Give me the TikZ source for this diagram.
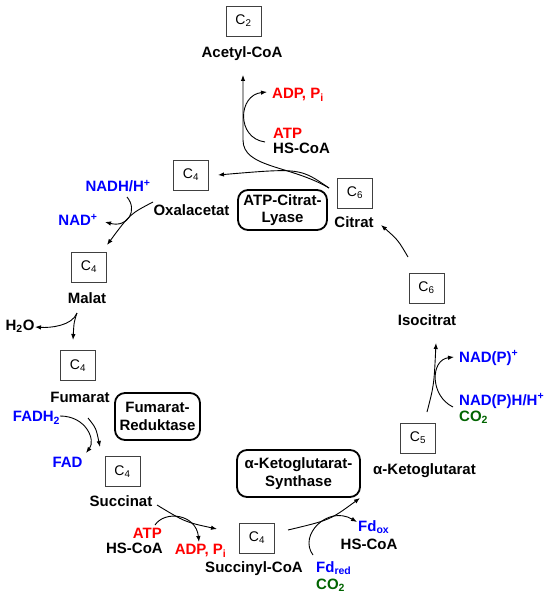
\documentclass[tikz,border=0pt]{standalone}
\usepackage{fontspec}
\setmainfont{Liberation Sans}
\usetikzlibrary{arrows.meta}
\definecolor{nblue}{RGB}{0,0,255}
\definecolor{nred}{RGB}{255,0,0}
\definecolor{ngreen}{RGB}{0,100,0}
\begin{document}
\begin{tikzpicture}[x=1pt,y=-1pt,
 cbox/.style={draw=black!75, line width=0.8pt, minimum width=35pt, minimum height=30pt, inner sep=0pt, font=\fontsize{14}{16}\selectfont},
 lbl/.style={font=\fontsize{15}{17}\selectfont\bfseries, inner sep=0pt},
 enz/.style={draw, line width=1.8pt, rounded corners=10pt, align=center, inner sep=0pt, font=\fontsize{15}{17.5}\selectfont\bfseries},
 arr/.style={-{Latex[length=6pt,width=4.5pt]}, line width=0.9pt}]
\fill[white] (0,0) rectangle (543,599);
\useasboundingbox (0,0) rectangle (543,599);

% carbon boxes
\node[cbox] (c2) at (243.5,21) {C\textsubscript{2}};
\node[cbox] (c4oxa) at (191,175) {C\textsubscript{4}};
\node[cbox] (c6cit) at (355,193) {C\textsubscript{6}};
\node[cbox] (c6iso) at (426.5,288) {C\textsubscript{6}};
\node[cbox] (c5) at (418,438) {C\textsubscript{5}};
\node[cbox] (c4sco) at (257,538) {C\textsubscript{4}};
\node[cbox] (c4suc) at (122.5,471.5) {C\textsubscript{4}};
\node[cbox] (c4fum) at (78,365.5) {C\textsubscript{4}};
\node[cbox] (c4mal) at (89,267) {C\textsubscript{4}};

% metabolite names
\node[lbl] (acetyl) at (242,54) {Acetyl-CoA};
\node[lbl] (oxa) at (191.5,210) {Oxalacetat};
\node[lbl] (citrat) at (354,222) {Citrat};
\node[lbl] (isocit) at (427,320) {Isocitrat};
\node[lbl] (aketo) at (424.5,471) {α-Ketoglutarat};
\node[lbl] (succoa) at (254,569) {Succinyl-CoA};
\node[lbl] (succ) at (121,501) {Succinat};
\node[lbl] (fum) at (80,397) {Fumarat};
\node[lbl] (mal) at (87,298) {Malat};

% enzymes
\node[enz, minimum width=89pt, minimum height=40pt] (lyase) at (282.5,210) {ATP-Citrat-\\Lyase};
\node[enz, minimum width=85pt, minimum height=47pt] (redukt) at (157.5,416.5) {Fumarat-\\Reduktase};
\node[enz, minimum width=123pt, minimum height=47pt] (synth) at (298.5,473.5) {α-Ketoglutarat-\\Synthase};

% cofactors
\node[lbl, text=nred, anchor=west] (adp1) at (272,95) {ADP, P\textsubscript{i}};
\node[lbl, text=nred, anchor=west] (atp1) at (273,133) {ATP};
\node[lbl, anchor=west] (hs1) at (273,148) {HS-CoA};
\node[lbl, text=nblue] (nadh) at (118,186) {NADH/H\textsuperscript{+}};
\node[lbl, text=nblue] (nad) at (78,220) {NAD\textsuperscript{+}};
\node[lbl] (h2o) at (20,326) {H\textsubscript{2}O};
\node[lbl, text=nblue] (fadh) at (36.5,418) {FADH\textsubscript{2}};
\node[lbl, text=nblue] (fad) at (67.5,462) {FAD};
\node[lbl, text=nred, anchor=east] (atp2) at (162,533) {ATP};
\node[lbl, anchor=east] (hs2) at (163,548) {HS-CoA};
\node[lbl, text=nred] (adp2) at (200.5,551) {ADP, P\textsubscript{i}};
\node[lbl, text=nblue, anchor=west] (fdox) at (358,527) {Fd\textsubscript{ox}};
\node[lbl] (hs3) at (369,544) {HS-CoA};
\node[lbl, text=nblue, anchor=west] (fdred) at (316,568) {Fd\textsubscript{red}};
\node[lbl, text=ngreen, anchor=west] (co2a) at (316,585) {CO\textsubscript{2}};
\node[lbl, text=nblue, anchor=west] (nadp) at (459,358) {NAD(P)\textsuperscript{+}};
\node[lbl, text=nblue, anchor=west] (nadph) at (459,401) {NAD(P)H/H\textsuperscript{+}};
\node[lbl, text=ngreen, anchor=west] (co2b) at (459,417) {CO\textsubscript{2}};

% connector end points
\coordinate (citS) at (329,188);
\coordinate (acE) at (243,75);
\coordinate (oxaE) at (218,175);
\coordinate (atp1S) at (265,142);
\coordinate (adp1E) at (267,92);
\coordinate (oxaS) at (153,202);
\coordinate (malE) at (107,245);
\coordinate (nadhS) at (127,197);
\coordinate (nadE) at (105,222);
\coordinate (malS) at (77,313);
\coordinate (fumE) at (73,340);
\coordinate (h2oE) at (35,327);
\coordinate (fumS) at (88,418);
\coordinate (sucE) at (100,447);
\coordinate (fadhS) at (60,416);
\coordinate (fadE) at (86,453);
\coordinate (sucS) at (157,505);
\coordinate (scoE) at (217,529);
\coordinate (atp2S) at (155,525);
\coordinate (adp2E) at (199,542);
\coordinate (scoS) at (288,530);
\coordinate (akE) at (360,498);
\coordinate (fdS) at (313,555);
\coordinate (fdoxE) at (357,522);
\coordinate (akS) at (427,412);
\coordinate (isoE) at (436,343);
\coordinate (nadphS) at (453,407);
\coordinate (nadpE) at (454,357);
\coordinate (isoS) at (408,257);
\coordinate (citE) at (381,225);

% reactions
\draw[arr] (citS) .. controls (290,165) and (243,168) .. (243,140) -- (acE);
\draw[arr] (citS) .. controls (300,168) .. (oxaE);
\draw[arr] (atp1S) .. controls (236,138) and (238,95) .. (adp1E);

\draw[arr] (oxaS) .. controls (130,214) .. (malE);
\draw[arr] (nadhS) .. controls (138,210) and (128,228) .. (nadE);

\draw[arr] (malS) .. controls (74,322) .. (fumE);
\draw[arr] (malS) .. controls (72,326) and (50,328) .. (h2oE);

\draw[arr] (fumS) .. controls (96,428) .. (sucE);
\draw[arr] (fadhS) .. controls (86,416) and (96,440) .. (fadE);

\draw[arr] (sucS) .. controls (185,522) .. (scoE);
\draw[arr] (atp2S) .. controls (165,510) and (196,514) .. (adp2E);

\draw[arr] (scoS) .. controls (330,520) .. (akE);
\draw[arr] (fdS) .. controls (298,535) and (328,505) .. (fdoxE);

\draw[arr] (akS) .. controls (434,385) .. (isoE);
\draw[arr] (nadphS) .. controls (430,396) and (430,360) .. (nadpE);

\draw[arr] (isoS) .. controls (398,240) .. (citE);
\end{tikzpicture}
\end{document}
